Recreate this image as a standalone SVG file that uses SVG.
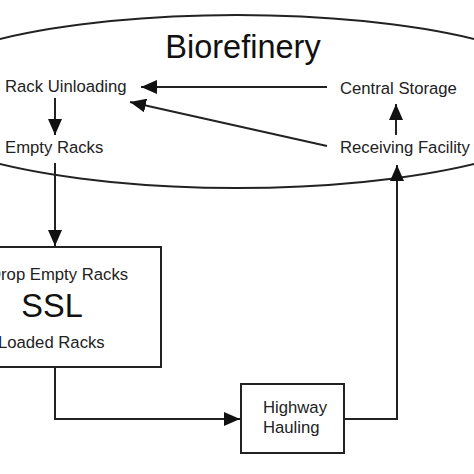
<svg xmlns="http://www.w3.org/2000/svg" width="474" height="474" viewBox="0 0 474 474">
<style>
.t{font-family:"Liberation Sans",Arial,sans-serif;font-size:16.7px;fill:#222}
.big{font-family:"Liberation Sans",Arial,sans-serif;font-size:32.5px;fill:#111}
.box{fill:#fff;stroke:#222;stroke-width:2}
.c{fill:none;stroke:#222;stroke-width:2}
</style>
<defs>
<marker id="ah" markerUnits="userSpaceOnUse" markerWidth="16" markerHeight="14" refX="16" refY="7" orient="auto">
<path d="M0,0 L16,7 L0,14 z" fill="#111"/>
</marker>
</defs>
<rect width="474" height="474" fill="#fff"/>
<g id="biorefinery">
<ellipse cx="237" cy="101.5" rx="343" ry="86.5" fill="none" stroke="#222" stroke-width="2"/>
<text class="big" x="243" y="58" text-anchor="middle">Biorefinery</text>
</g>
<g id="rack-unloading"><text class="t" x="5" y="92">Rack Uinloading</text></g>
<g id="central-storage"><text class="t" x="340" y="94">Central Storage</text></g>
<g id="empty-racks"><text class="t" x="5" y="153">Empty Racks</text></g>
<g id="receiving-facility"><text class="t" x="340" y="153">Receiving Facility</text></g>
<g id="ssl">
<rect class="box" x="-5" y="247" width="166" height="120"/>
<text class="t" x="-11" y="280">Drop Empty Racks</text>
<text class="big" x="52" y="317" text-anchor="middle">SSL</text>
<text class="t" x="-2" y="348">Loaded Racks</text>
</g>
<g id="highway-hauling">
<rect class="box" x="241" y="384" width="103" height="69"/>
<text class="t" x="263" y="413">Highway</text>
<text class="t" x="263" y="433">Hauling</text>
</g>
<g id="connectors">
<path class="c" d="M327,87 L141,87" marker-end="url(#ah)"/>
<path class="c" d="M327,146 L130,102" stroke-width="1.5" marker-end="url(#ah)"/>
<path class="c" d="M55,98 L55,135" marker-end="url(#ah)"/>
<path class="c" d="M396,135 L396,104" marker-end="url(#ah)"/>
<path class="c" d="M55,163 L55,246" marker-end="url(#ah)"/>
<path class="c" d="M55,367 L55,419 L240,419" marker-end="url(#ah)"/>
<path class="c" d="M344,419 L397,419 L397,165" marker-end="url(#ah)"/>
</g>
</svg>
